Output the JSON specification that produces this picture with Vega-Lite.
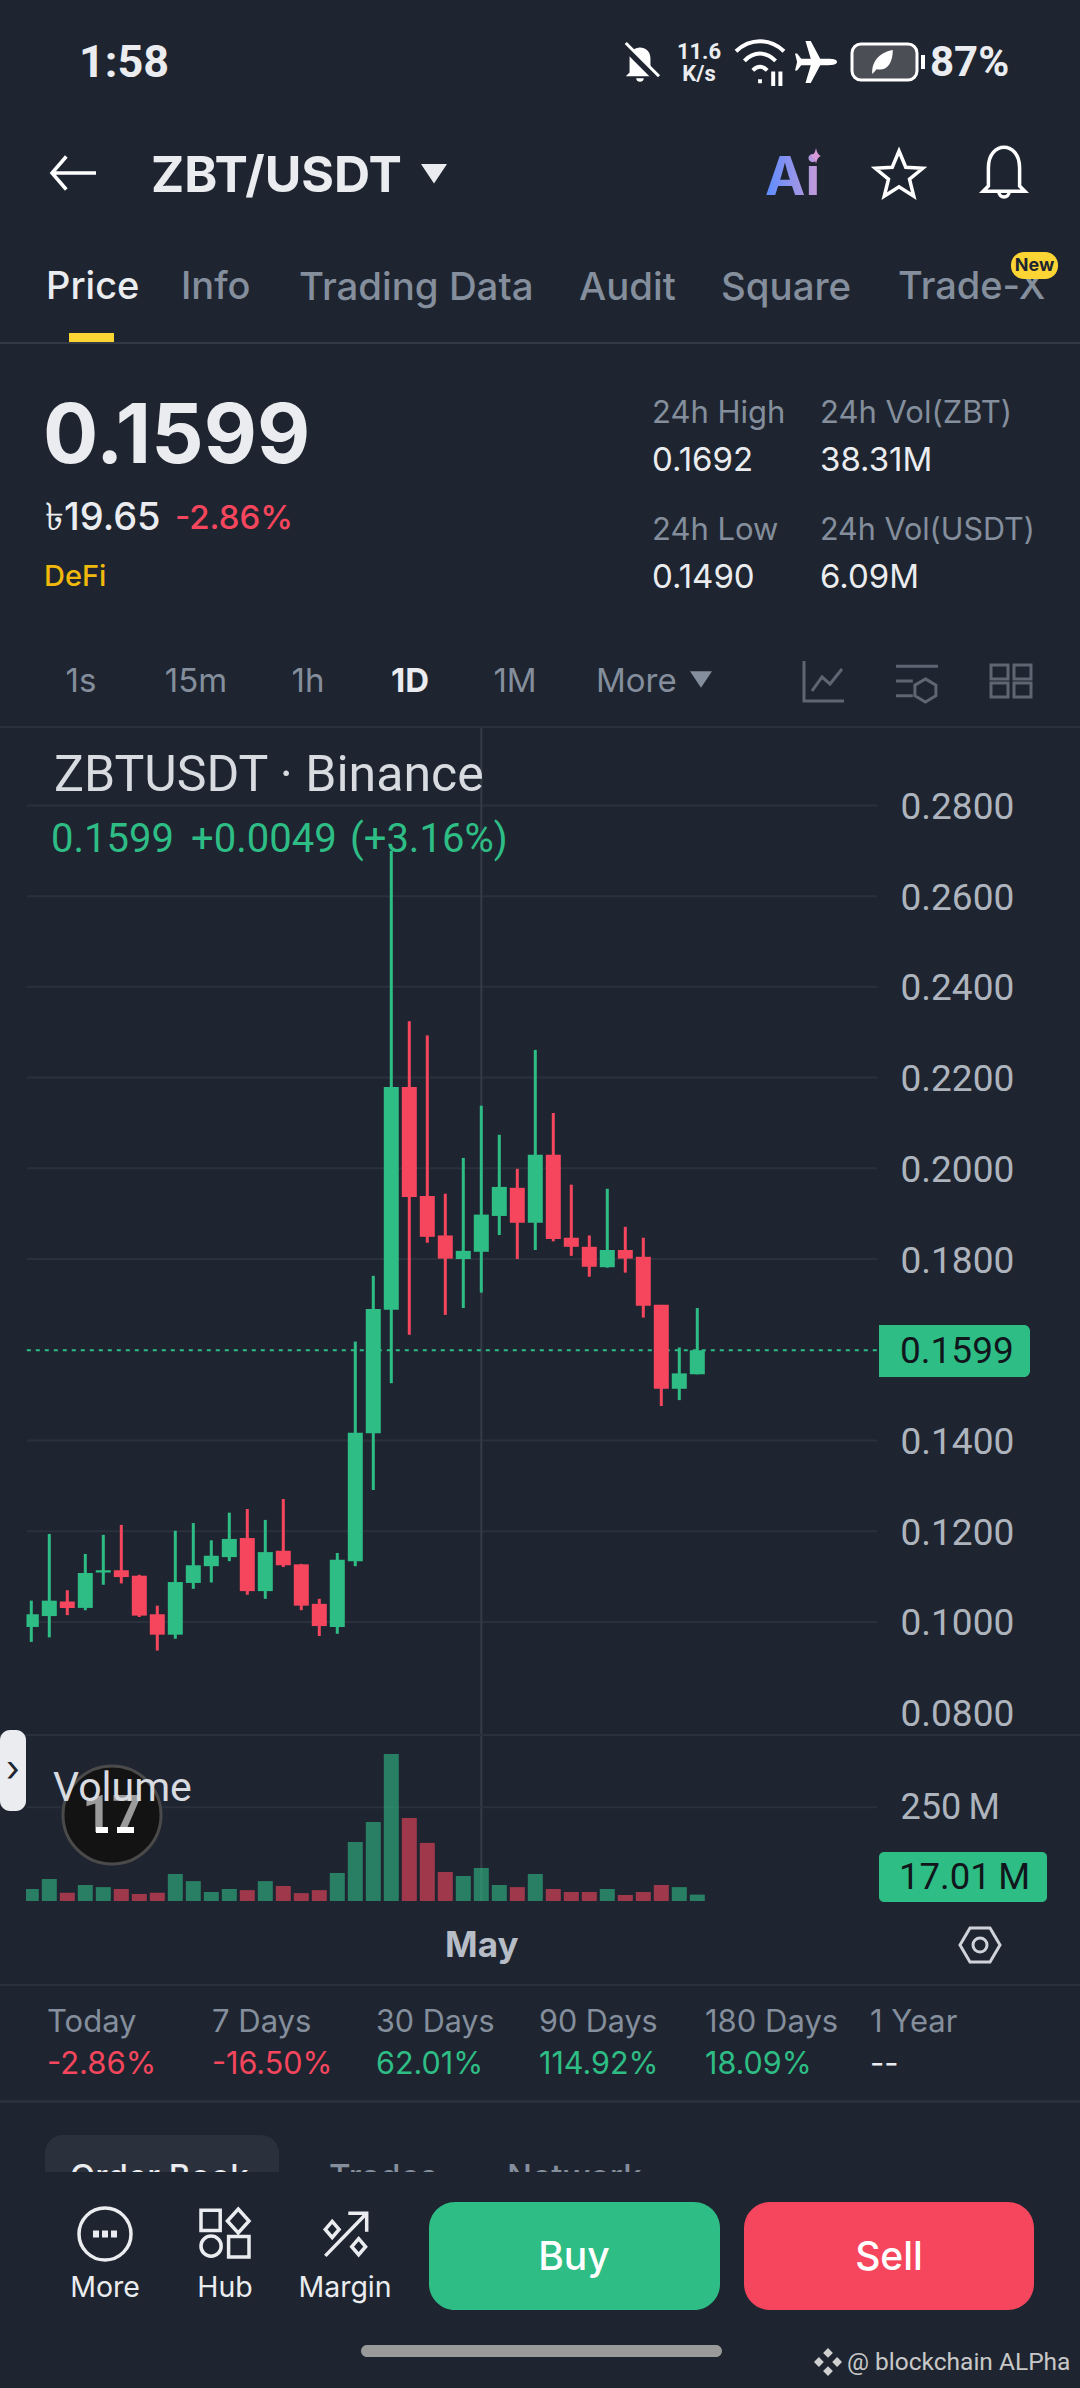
{
"$schema":"https://vega.github.io/schema/vega-lite/v6.json",
"width":1080,"height":2388,"padding":0,
"autosize":{"type":"fit","contains":"padding"},
"background":"#1e2530",
"config":{"view":{"stroke":null},"text":{"font":"Inter","align":"left","baseline":"middle","color":"#eaecef"},"point":{"opacity":1}},
"data":{"values":[{}]},
"datasets":{
"candles":[
{"date":"2026-04-06","open":0.0989,"high":0.1047,"low":0.0956,"close":0.1017,"volume":32},
{"date":"2026-04-07","open":0.1013,"high":0.1194,"low":0.0966,"close":0.1047,"volume":58.7},
{"date":"2026-04-08","open":0.1045,"high":0.1070,"low":0.1015,"close":0.1031,"volume":22},
{"date":"2026-04-09","open":0.1031,"high":0.1150,"low":0.1026,"close":0.1108,"volume":42.7},
{"date":"2026-04-10","open":0.1109,"high":0.1192,"low":0.1082,"close":0.1114,"volume":37},
{"date":"2026-04-11","open":0.1114,"high":0.1214,"low":0.1085,"close":0.1099,"volume":32},
{"date":"2026-04-12","open":0.1102,"high":0.1104,"low":0.1011,"close":0.1014,"volume":18.7},
{"date":"2026-04-13","open":0.1017,"high":0.1036,"low":0.0937,"close":0.0972,"volume":22},
{"date":"2026-04-14","open":0.0972,"high":0.1201,"low":0.0963,"close":0.1088,"volume":72},
{"date":"2026-04-15","open":0.1086,"high":0.1218,"low":0.1073,"close":0.1125,"volume":53},
{"date":"2026-04-16","open":0.1123,"high":0.1180,"low":0.1087,"close":0.1146,"volume":24},
{"date":"2026-04-17","open":0.1143,"high":0.1241,"low":0.1134,"close":0.1183,"volume":32},
{"date":"2026-04-18","open":0.1185,"high":0.1249,"low":0.1060,"close":0.1068,"volume":29},
{"date":"2026-04-19","open":0.1068,"high":0.1225,"low":0.1051,"close":0.1154,"volume":53},
{"date":"2026-04-20","open":0.1157,"high":0.1271,"low":0.1121,"close":0.1125,"volume":40},
{"date":"2026-04-21","open":0.1127,"high":0.1128,"low":0.1026,"close":0.1036,"volume":21},
{"date":"2026-04-22","open":0.1040,"high":0.1051,"low":0.0969,"close":0.0991,"volume":29},
{"date":"2026-04-23","open":0.0989,"high":0.1152,"low":0.0974,"close":0.1137,"volume":74.7},
{"date":"2026-04-24","open":0.1134,"high":0.1618,"low":0.1123,"close":0.1417,"volume":157.5},
{"date":"2026-04-25","open":0.1416,"high":0.1763,"low":0.1291,"close":0.1690,"volume":211},
{"date":"2026-04-26","open":0.1688,"high":0.2700,"low":0.1526,"close":0.2179,"volume":392},
{"date":"2026-04-27","open":0.2179,"high":0.2324,"low":0.1633,"close":0.1937,"volume":221.5},
{"date":"2026-04-28","open":0.1939,"high":0.2293,"low":0.1836,"close":0.1849,"volume":155},
{"date":"2026-04-29","open":0.1852,"high":0.1944,"low":0.1677,"close":0.1801,"volume":77.4},
{"date":"2026-04-30","open":0.1800,"high":0.2023,"low":0.1692,"close":0.1818,"volume":66.7},
{"date":"2026-05-01","open":0.1816,"high":0.2138,"low":0.1726,"close":0.1898,"volume":88},
{"date":"2026-05-02","open":0.1895,"high":0.2074,"low":0.1853,"close":0.1959,"volume":42.7},
{"date":"2026-05-03","open":0.1957,"high":0.1999,"low":0.1800,"close":0.1880,"volume":37},
{"date":"2026-05-04","open":0.1880,"high":0.2261,"low":0.1820,"close":0.2030,"volume":72},
{"date":"2026-05-05","open":0.2030,"high":0.2122,"low":0.1839,"close":0.1844,"volume":32},
{"date":"2026-05-06","open":0.1847,"high":0.1964,"low":0.1807,"close":0.1827,"volume":24},
{"date":"2026-05-07","open":0.1827,"high":0.1852,"low":0.1761,"close":0.1783,"volume":24},
{"date":"2026-05-08","open":0.1782,"high":0.1955,"low":0.1781,"close":0.1820,"volume":32},
{"date":"2026-05-09","open":0.1820,"high":0.1871,"low":0.1770,"close":0.1801,"volume":16},
{"date":"2026-05-10","open":0.1805,"high":0.1847,"low":0.1671,"close":0.1697,"volume":24},
{"date":"2026-05-11","open":0.1699,"high":0.1699,"low":0.1476,"close":0.1514,"volume":42.7},
{"date":"2026-05-12","open":0.1514,"high":0.1605,"low":0.1489,"close":0.1548,"volume":37},
{"date":"2026-05-13","open":0.1546,"high":0.1692,"low":0.1546,"close":0.1599,"volume":17.01}
],
"priceGrid":[{"level":0.10},{"level":0.12},{"level":0.14},{"level":0.18},{"level":0.20},{"level":0.22},{"level":0.24},{"level":0.26},{"level":0.28}],
"volumeGrid":[{"level":250}]
},
"resolve":{"scale":{"y":"independent"},"axis":{"y":"independent"}},
"layer":[
{"encoding":{"y":{"type":"quantitative","scale":{"domain":[0.08,0.28],"range":[1712.7,805.4],"nice":false,"zero":false},"axis":{"orient":"right","values":[0.08,0.10,0.12,0.14,0.18,0.20,0.22,0.24,0.26,0.28],"format":".4f","offset":-180,"title":null,"grid":false,"domain":false,"ticks":false,"tickSize":0,"labelPadding":0,"labelOffset":2,"labelAlign":"left","labelFont":"Roboto","labelFontSize":37,"labelColor":"#aeb4bd","labelOverlap":false,"labelFlush":false}}},
"layer":[
{"data":{"name":"priceGrid"},"mark":{"type":"rule","color":"#2a313c","strokeWidth":2},"encoding":{"y":{"field":"level","type":"quantitative"},"x":{"datum":{"year":2026,"month":4,"date":5,"hours":18,"utc":true},"type":"temporal","scale":{"type":"utc","domain":["2026-04-06","2026-05-13"],"range":[31.3,697.3],"nice":false,"padding":0},"axis":{"values":["2026-05-01"],"format":"%b","title":null,"grid":false,"domain":false,"ticks":false,"tickSize":0,"orient":"bottom","offset":-443,"labelPadding":0,"labelBaseline":"middle","labelFont":"Inter","labelFontWeight":"bold","labelFontSize":35,"labelColor":"#b7bdc6","labelFlush":false,"labelOverlap":false}},"x2":{"datum":{"year":2026,"month":5,"date":23,"utc":true}}}},
{"mark":{"type":"rule","color":"#353c48","strokeWidth":2},"encoding":{"x":{"datum":{"year":2026,"month":5,"date":1,"utc":true},"type":"temporal"},"y":{"datum":0.2971},"y2":{"datum":0.0385}}},
{"mark":{"type":"rule","color":"#2ebd85","strokeWidth":2,"strokeDash":[4,5]},"encoding":{"y":{"datum":0.1599},"x":{"datum":{"year":2026,"month":4,"date":5,"hours":18,"utc":true},"type":"temporal"},"x2":{"datum":{"year":2026,"month":5,"date":23,"utc":true}}}},
{"data":{"name":"candles"},"mark":{"type":"rule","strokeWidth":3},"encoding":{"x":{"field":"date","type":"temporal"},"y":{"field":"low","type":"quantitative"},"y2":{"field":"high"},"color":{"condition":{"test":"datum.close >= datum.open","value":"#2ebd85"},"value":"#f6465d"}}},
{"data":{"name":"candles"},"mark":{"type":"bar","width":15},"encoding":{"x":{"field":"date","type":"temporal"},"y":{"field":"open","type":"quantitative"},"y2":{"field":"close"},"color":{"condition":{"test":"datum.close >= datum.open","value":"#2ebd85"},"value":"#f6465d"}}}
]},
{"encoding":{"y":{"type":"quantitative","scale":{"domain":[0,250],"range":[1901,1807.3],"nice":false},"axis":{"orient":"right","values":[250],"labelExpr":"datum.value + '\u2009M'","offset":-180,"title":null,"grid":false,"domain":false,"ticks":false,"tickSize":0,"labelPadding":0,"labelAlign":"left","labelFont":"Roboto","labelFontSize":36,"labelColor":"#aeb4bd","labelOverlap":false,"labelFlush":false}}},
"layer":[
{"data":{"name":"volumeGrid"},"mark":{"type":"rule","color":"#2a313c","strokeWidth":2},"encoding":{"y":{"field":"level","type":"quantitative"},"x":{"datum":{"year":2026,"month":4,"date":5,"hours":18,"utc":true},"type":"temporal"},"x2":{"datum":{"year":2026,"month":5,"date":23,"utc":true}}}},
{"data":{"name":"candles"},"mark":{"type":"bar","width":15,"opacity":0.6},"encoding":{"x":{"field":"date","type":"temporal"},"y":{"field":"volume","type":"quantitative"},"color":{"condition":{"test":"datum.close >= datum.open","value":"#2ebd85"},"value":"#f6465d"}}}
]},
{"mark":{"type":"rect","x":0,"x2":26.5,"y":1400,"y2":1700,"color":"#1e2530"}},
{"mark":{"type":"rect","x":0,"x2":26,"y":1880,"y2":1910,"color":"#1e2530"}},

{"mark":{"type":"text","x":79,"y":63,"text":"1:58","fontSize":45,"fontWeight":"bold","font":"Roboto"}},
{"mark":{"type":"point","x":640,"y":62,"size":1444,"filled":true,"color":"#ffffff","shape":"M-.55,.55L-.55,-.2C-.55,-.95 .55,-.95 .55,-.2L.55,.55L.75,.75L-.75,.75Z M-.2,.85C-.2,1.1 .2,1.1 .2,.85Z"}},
{"mark":{"type":"point","x":640,"y":62,"size":1444,"filled":false,"color":"#1e2530","strokeWidth":7,"shape":"M-.9,-.9L.9,.9"}},
{"mark":{"type":"point","x":640,"y":62,"size":1444,"filled":false,"color":"#ffffff","strokeWidth":3,"shape":"M-.75,-1L1,.75"}},
{"mark":{"type":"text","x":699,"y":52,"text":"11.6","fontSize":22,"fontWeight":"bold","align":"center","font":"Roboto"}},
{"mark":{"type":"text","x":699,"y":74,"text":"K/s","fontSize":22,"fontWeight":"bold","align":"center","font":"Roboto"}},
{"mark":{"type":"point","x":760,"y":62,"size":2304,"filled":false,"color":"#ffffff","strokeWidth":4,"shape":"M-1,-.45C-.4,-1 .4,-1 1,-.45 M-.65,-.05C-.25,-.45 .25,-.45 .65,-.05 M-.3,.35C-.1,.15 .1,.15 .3,.35 M-.08,.8L.08,.8 M.55,.4V1 M.85,.4V1"}},
{"mark":{"type":"point","x":816,"y":62,"size":1764,"filled":true,"color":"#ffffff","shape":"M1,0C1,-.12 .8,-.15 .6,-.15L.2,-.15L-.25,-1L-.5,-1L-.25,-.15L-.7,-.15L-.9,-.4L-1,-.4L-.9,0L-1,.4L-.9,.4L-.7,.15L-.25,.15L-.5,1L-.25,1L.2,.15L.6,.15C.8,.15 1,.12 1,0Z"}},
{"mark":{"type":"rect","x":852,"x2":917,"y":44,"y2":80,"cornerRadius":9,"fill":"#4b4e55","stroke":"#ffffff","strokeWidth":3}},
{"mark":{"type":"rect","x":921,"x2":925,"y":55,"y2":69,"color":"#ffffff"}},
{"mark":{"type":"point","x":882,"y":62,"size":576,"filled":true,"color":"#ffffff","shape":"M-.8,1C-.9,.1 -.3,-.8 .9,-1C.9,.1 .4,.8 -.45,.6Z"}},
{"mark":{"type":"text","x":930,"y":63,"text":"87%","fontSize":42,"fontWeight":"bold","font":"Roboto"}},

{"mark":{"type":"point","x":74,"y":173,"size":1936,"filled":false,"color":"#ffffff","strokeWidth":3.5,"shape":"M1,0L-1,0M-0.35,-0.75L-1,0L-0.35,0.75"}},
{"mark":{"type":"text","x":151,"y":177,"text":"ZBT/USDT","fontSize":50,"fontWeight":"bold"}},
{"mark":{"type":"point","x":434,"y":173,"size":676,"filled":true,"color":"#eaecef","shape":"M-1,-.7L1,-.7L0,.8Z"}},
{"mark":{"type":"text","x":765,"y":179,"text":"Ai","fontSize":54,"fontWeight":"bold","color":{"gradient":"linear","x1":0,"y1":0,"x2":1,"y2":0,"stops":[{"offset":0,"color":"#5b8cff"},{"offset":1,"color":"#c79bd8"}]}}},
{"mark":{"type":"point","x":816,"y":156,"size":256,"filled":true,"color":"#d89ad8","shape":"M0,-1Q.15,-.15 .6,0Q.15,.15 0,1Q-.15,.15 -.6,0Q-.15,-.15 0,-1Z"}},
{"mark":{"type":"point","x":899,"y":176,"size":2500,"filled":false,"color":"#ffffff","strokeWidth":3.5,"shape":"M0,-1L.27,-.35L.95,-.31L.42,.13L.59,.81L0,.43L-.59,.81L-.42,.13L-.95,-.31L-.27,-.35Z"}},
{"mark":{"type":"point","x":1004,"y":173,"size":2704,"filled":false,"color":"#ffffff","strokeWidth":3.5,"shape":"M-0.6,0.5L-0.6,-0.2C-0.6,-1.25 0.6,-1.25 0.6,-0.2L0.6,0.5L0.8,0.7L-0.8,0.7Z M-0.2,0.7C-0.2,1 0.2,1 0.2,0.7"}},

{"mark":{"type":"text","x":46,"y":288,"text":"Price","fontSize":38,"fontWeight":500,"color":"#eaecef"}},
{"mark":{"type":"text","x":181,"y":288,"text":"Info","fontSize":38,"fontWeight":500,"color":"#848e9c"}},
{"mark":{"type":"text","x":299,"y":288,"text":"Trading Data","fontSize":38.4,"fontWeight":500,"color":"#848e9c"}},
{"mark":{"type":"text","x":579,"y":288,"text":"Audit","fontSize":38.4,"fontWeight":500,"color":"#848e9c"}},
{"mark":{"type":"text","x":721,"y":288,"text":"Square","fontSize":38.4,"fontWeight":500,"color":"#848e9c"}},
{"mark":{"type":"text","x":898,"y":288,"text":"Trade-X","fontSize":38,"fontWeight":500,"color":"#848e9c"}},
{"mark":{"type":"rect","x":1011,"x2":1058,"y":252,"y2":279,"cornerRadius":13,"color":"#fcd535"}},
{"mark":{"type":"text","x":1034.5,"y":266,"text":"New","fontSize":18,"fontWeight":"bold","align":"center","color":"#1e2530"}},
{"mark":{"type":"rect","x":69,"x2":114,"y":333,"y2":342,"color":"#fcd535"}},
{"mark":{"type":"rect","x":0,"x2":1080,"y":342,"y2":344,"color":"#333a45"}},

{"mark":{"type":"text","x":43,"y":438,"text":"0.1599","fontSize":82,"fontWeight":"bold"}},
{"mark":{"type":"text","x":45,"y":519,"text":"৳19.65","fontSize":38,"fontWeight":500}},
{"mark":{"type":"text","x":175,"y":519,"text":"-2.86%","fontSize":33,"fontWeight":500,"color":"#f6465d"}},
{"mark":{"type":"text","x":44,"y":577,"text":"DeFi","fontSize":29,"fontWeight":500,"color":"#f0b90b"}},
{"mark":{"type":"text","x":652,"y":414,"text":"24h High","fontSize":31,"color":"#848e9c"}},
{"mark":{"type":"text","x":652,"y":461,"text":"0.1692","fontSize":33}},
{"mark":{"type":"text","x":820,"y":414,"text":"24h Vol(ZBT)","fontSize":31,"color":"#848e9c"}},
{"mark":{"type":"text","x":820,"y":461,"text":"38.31M","fontSize":33}},
{"mark":{"type":"text","x":652,"y":531,"text":"24h Low","fontSize":31,"color":"#848e9c"}},
{"mark":{"type":"text","x":652,"y":578,"text":"0.1490","fontSize":33}},
{"mark":{"type":"text","x":820,"y":531,"text":"24h Vol(USDT)","fontSize":30.5,"color":"#848e9c"}},
{"mark":{"type":"text","x":820,"y":578,"text":"6.09M","fontSize":33}},

{"mark":{"type":"text","x":81,"y":682,"text":"1s","fontSize":33,"align":"center","color":"#848e9c"}},
{"mark":{"type":"text","x":196,"y":682,"text":"15m","fontSize":33,"align":"center","color":"#848e9c"}},
{"mark":{"type":"text","x":308,"y":682,"text":"1h","fontSize":33,"align":"center","color":"#848e9c"}},
{"mark":{"type":"text","x":410,"y":682,"text":"1D","fontSize":33,"align":"center","fontWeight":"bold"}},
{"mark":{"type":"text","x":515,"y":682,"text":"1M","fontSize":33,"align":"center","color":"#848e9c"}},
{"mark":{"type":"text","x":596,"y":682,"text":"More","fontSize":33,"color":"#848e9c"}},
{"mark":{"type":"point","x":701,"y":679,"size":484,"filled":true,"color":"#848e9c","shape":"M-1,-.7L1,-.7L0,.8Z"}},
{"mark":{"type":"point","x":824,"y":681,"size":1600,"filled":false,"color":"#5e6673","strokeWidth":3,"shape":"M-1,-1L-1,1L1,1M-0.6,0.5L-0.1,-0.2L0.3,0.15L0.9,-0.6"}},
{"mark":{"type":"point","x":917,"y":681,"size":1764,"filled":false,"color":"#5e6673","strokeWidth":3,"shape":"M-1,-.7L1,-.7 M-1,0L-0.2,0 M-1,0.7L-0.2,0.7 M.4,-.1L.9,.2L.9,.7L.4,1L-.1,.7L-.1,.2Z"}},
{"mark":{"type":"point","x":1011,"y":681,"size":1600,"filled":false,"color":"#5e6673","strokeWidth":3,"shape":"M-1,-.8H-.15V-.1H-1Z M.15,-.8H1V-.1H.15Z M-1,.1H-.15V.8H-1Z M.15,.1H1V.8H.15Z"}},
{"mark":{"type":"rect","x":0,"x2":1080,"y":726,"y2":728,"color":"#2a313c"}},

{"mark":{"type":"text","x":54,"y":776,"text":"ZBTUSDT · Binance","fontSize":50,"color":"#d8dbe0","font":"Roboto"}},
{"mark":{"type":"text","x":51,"y":840,"text":"0.1599","fontSize":40,"color":"#2ebd85","font":"Roboto"}},
{"mark":{"type":"text","x":191,"y":840,"text":"+0.0049","fontSize":40,"color":"#2ebd85","font":"Roboto"}},
{"mark":{"type":"text","x":350,"y":840,"text":"(+3.16%)","fontSize":40,"color":"#2ebd85","font":"Roboto"}},
{"mark":{"type":"rect","x":879,"x2":1030,"y":1325,"y2":1377,"cornerRadiusTopRight":6,"cornerRadiusBottomRight":6,"color":"#2ebd85"}},
{"mark":{"type":"text","x":900,"y":1352,"text":"0.1599","fontSize":37,"font":"Roboto","color":"#10161c"}},

{"mark":{"type":"rect","x":0,"x2":1080,"y":1734,"y2":1736,"color":"#2a313c"}},
{"mark":{"type":"rect","x":0,"x2":26,"y":1730,"y2":1811,"cornerRadius":10,"color":"#eaecef"}},
{"mark":{"type":"text","x":13,"y":1770,"text":"›","fontSize":36,"align":"center","color":"#1e2530"}},
{"mark":{"type":"point","x":112,"y":1815,"size":9604,"shape":"circle","filled":true,"color":"#131313","stroke":"#4a4a4a","strokeWidth":3}},
{"mark":{"type":"text","x":112,"y":1816,"text":"17","fontSize":52,"fontWeight":"bold","align":"center","color":"#9b9b9b","font":"Roboto"}},
{"mark":{"type":"rect","x":96,"x2":108,"y":1827,"y2":1833,"color":"#ffffff"}},
{"mark":{"type":"rect","x":117,"x2":134,"y":1827,"y2":1833,"color":"#ffffff"}},
{"mark":{"type":"text","x":53,"y":1789,"text":"Volume","fontSize":41,"color":"#d8dbe0","font":"Roboto"}},
{"mark":{"type":"rect","x":879,"x2":1047,"y":1852,"y2":1902,"cornerRadius":5,"color":"#2ebd85"}},
{"mark":{"type":"text","x":899,"y":1878,"text":"17.01\u2009M","fontSize":36.5,"font":"Roboto","color":"#10161c"}},
{"mark":{"type":"point","x":980,"y":1945,"size":1600,"filled":false,"color":"#d0d4da","strokeWidth":3,"shape":"M-.5,-.85L.5,-.85L1,0L.5,.85L-.5,.85L-1,0Z"}},
{"mark":{"type":"point","x":980,"y":1945,"size":196,"shape":"circle","filled":false,"color":"#d0d4da","strokeWidth":3}},
{"mark":{"type":"rect","x":0,"x2":1080,"y":1984,"y2":1986,"color":"#2a313c"}},

{"mark":{"type":"text","x":47,"y":2023,"text":"Today","fontSize":31,"color":"#848e9c"}},
{"mark":{"type":"text","x":212,"y":2023,"text":"7 Days","fontSize":31,"color":"#848e9c"}},
{"mark":{"type":"text","x":376,"y":2023,"text":"30 Days","fontSize":30.5,"color":"#848e9c"}},
{"mark":{"type":"text","x":539,"y":2023,"text":"90 Days","fontSize":30.5,"color":"#848e9c"}},
{"mark":{"type":"text","x":705,"y":2023,"text":"180 Days","fontSize":31,"color":"#848e9c"}},
{"mark":{"type":"text","x":870,"y":2023,"text":"1 Year","fontSize":31,"color":"#848e9c"}},
{"mark":{"type":"text","x":47,"y":2065,"text":"-2.86%","fontSize":31,"color":"#f6465d"}},
{"mark":{"type":"text","x":212,"y":2065,"text":"-16.50%","fontSize":30.5,"color":"#f6465d"}},
{"mark":{"type":"text","x":376,"y":2065,"text":"62.01%","fontSize":30.5,"color":"#2ebd85"}},
{"mark":{"type":"text","x":539,"y":2065,"text":"114.92%","fontSize":30.5,"color":"#2ebd85"}},
{"mark":{"type":"text","x":705,"y":2065,"text":"18.09%","fontSize":30.5,"color":"#2ebd85"}},
{"mark":{"type":"text","x":870,"y":2065,"text":"--","fontSize":31,"color":"#eaecef"}},
{"mark":{"type":"rect","x":0,"x2":1080,"y":2100,"y2":2103,"color":"#2a313c"}},

{"mark":{"type":"rect","x":45,"x2":279,"y":2135,"y2":2190,"cornerRadius":18,"color":"#2a313c"}},
{"mark":{"type":"text","x":70,"y":2178,"text":"Order Book","fontSize":33,"fontWeight":500}},
{"mark":{"type":"text","x":329,"y":2178,"text":"Trades","fontSize":33,"fontWeight":500,"color":"#848e9c"}},
{"mark":{"type":"text","x":507,"y":2178,"text":"Network","fontSize":33,"fontWeight":500,"color":"#848e9c"}},
{"mark":{"type":"rect","x":0,"x2":1080,"y":2172,"y2":2388,"color":"#1e2530"}},

{"mark":{"type":"point","x":105,"y":2234,"size":2704,"shape":"circle","filled":false,"color":"#eaecef","strokeWidth":3.5}},
{"mark":{"type":"point","x":105,"y":2234,"size":576,"filled":true,"color":"#eaecef","shape":"M-1,-.3H-.5V.3H-1Z M-.25,-.3H.25V.3H-.25Z M.5,-.3H1V.3H.5Z"}},
{"mark":{"type":"point","x":225,"y":2233,"size":2304,"filled":false,"color":"#eaecef","strokeWidth":3.5,"shape":"M-1,-.95H-.2V-.1H-1Z M.55,-1L1,-.5L.55,0L.1,-.5Z M-1,.55A.42,.42 0 1 1 -.16,.55A.42,.42 0 1 1 -1,.55Z M.15,.15H1V1H.15Z"}},
{"mark":{"type":"point","x":346,"y":2234,"size":2116,"filled":false,"color":"#eaecef","strokeWidth":3.5,"shape":"M-.9,.95L.9,-.9M.1,-.9H.9V-.1 M-.6,-.55L-.3,-.2L-.6,.15L-.9,-.2Z M.55,.2L.85,.55L.55,.9L.25,.55Z"}},
{"mark":{"type":"text","x":105,"y":2288,"text":"More","fontSize":28.5,"align":"center"}},
{"mark":{"type":"text","x":225,"y":2288,"text":"Hub","fontSize":28.5,"align":"center"}},
{"mark":{"type":"text","x":345,"y":2288,"text":"Margin","fontSize":28.5,"align":"center"}},
{"mark":{"type":"rect","x":429,"x2":720,"y":2202,"y2":2310,"cornerRadius":26,"color":"#2ebd85"}},
{"mark":{"type":"text","x":574,"y":2258,"text":"Buy","fontSize":39,"fontWeight":500,"align":"center","color":"#ffffff"}},
{"mark":{"type":"rect","x":744,"x2":1034,"y":2202,"y2":2310,"cornerRadius":26,"color":"#f6465d"}},
{"mark":{"type":"text","x":889,"y":2258,"text":"Sell","fontSize":39,"fontWeight":500,"align":"center","color":"#ffffff"}},
{"mark":{"type":"rect","x":361,"x2":722,"y":2345,"y2":2357,"cornerRadius":6,"color":"#9a9a9a"}},
{"mark":{"type":"point","x":828,"y":2362,"size":784,"filled":true,"color":"#d0d0d0","shape":"M0,-1L.35,-.65L0,-.3L-.35,-.65Z M-.65,-.35L-.3,0L-.65,.35L-1,0Z M.65,-.35L1,0L.65,.35L.3,0Z M0,.3L.35,.65L0,1L-.35,.65Z"}},
{"mark":{"type":"text","x":847,"y":2363,"text":"@ blockchain ALPha","fontSize":24.5,"color":"#c8c8c8","font":"Roboto"}}
]
}
